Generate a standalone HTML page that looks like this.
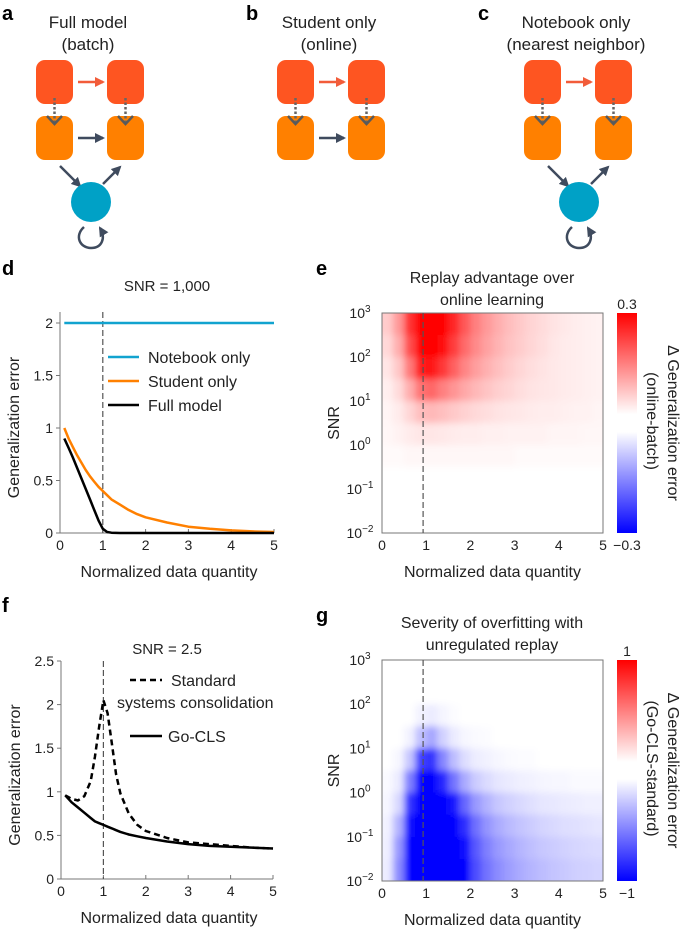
<!DOCTYPE html>
<html><head><meta charset="utf-8">
<style>
html,body{margin:0;padding:0;background:#fff;}
svg{display:block;font-family:"Liberation Sans",Arial,sans-serif;}
</style></head>
<body>
<svg id="fig" width="685" height="931" viewBox="0 0 685 931" xmlns="http://www.w3.org/2000/svg">
<defs>
<marker id="ah" viewBox="0 0 10 10" refX="8" refY="5" markerWidth="4" markerHeight="4" orient="auto"><path d="M0,0 L10,5 L0,10 z" fill="#3f4b5e"/></marker>
<marker id="ahr" viewBox="0 0 10 10" refX="8" refY="5" markerWidth="4" markerHeight="4" orient="auto"><path d="M0,0 L10,5 L0,10 z" fill="#f25c3a"/></marker>
<linearGradient id="cbe" x1="0" y1="0" x2="0" y2="1">
<stop offset="0" stop-color="#ff0000"/><stop offset="0.46" stop-color="#ffffff"/><stop offset="0.54" stop-color="#ffffff"/><stop offset="1" stop-color="#0000ff"/></linearGradient>
<filter id="blur" x="-5%" y="-5%" width="110%" height="110%"><feGaussianBlur stdDeviation="3.5"/></filter>
<clipPath id="clipE"><rect x="382" y="313" width="221" height="220"/></clipPath>
<clipPath id="clipG"><rect x="382" y="660" width="221" height="221"/></clipPath>
</defs>
<g id="diagrams"></g>
<g id="panel-d"></g>
<g id="panel-e"></g>
<g id="panel-f"></g>
<g id="panel-g"></g>
</svg>
<script>
// ---------- data ----------
const dX = [0.1,0.2,0.3,0.4,0.5,0.6,0.7,0.8,0.9,1.0,1.1,1.2,1.4,1.6,1.8,2.0,2.5,3.0,3.5,4.0,4.5,5.0];
const dNotebook = [2,2,2,2,2,2,2,2,2,2,2,2,2,2,2,2,2,2,2,2,2,2];
const dStudent = [1.0,0.9,0.82,0.74,0.67,0.6,0.54,0.49,0.44,0.4,0.36,0.32,0.27,0.22,0.18,0.15,0.1,0.06,0.04,0.025,0.015,0.01];
const dFull = [0.9,0.81,0.72,0.62,0.52,0.42,0.32,0.22,0.12,0.04,0.01,0.003,0,0,0,0,0,0,0,0,0,0];

const fX = [0.1,0.25,0.4,0.55,0.7,0.8,0.9,1.0,1.1,1.2,1.3,1.4,1.6,1.8,2.0,2.5,3.0,3.5,4.0,4.5,5.0];
const fStandard = [0.96,0.92,0.9,0.95,1.12,1.4,1.75,2.05,1.9,1.55,1.2,0.98,0.75,0.62,0.55,0.47,0.42,0.4,0.38,0.36,0.35];
const fGoCLS = [0.96,0.88,0.82,0.76,0.7,0.66,0.64,0.62,0.6,0.58,0.56,0.54,0.51,0.49,0.47,0.43,0.4,0.38,0.37,0.36,0.35];

const dYTicks = [0,0.5,1,1.5,2];
const dYTickLabels = ["0","0.5","1","1.5","2"];
const fYTicks = [0,0.5,1,1.5,2,2.5];
const fYTickLabels = ["0","0.5","1","1.5","2","2.5"];
const xTicks = [0,1,2,3,4,5];
const logTicks = [3,2,1,0,-1,-2];

// heatmap: 20 columns (width 0.25), 10 rows (half decades) from top (10^3) to bottom (10^-2)
const eValues = [
[0.2,0.4,0.8,1,1,1,0.85,0.65,0.5,0.4,0.32,0.26,0.21,0.17,0.14,0.11,0.09,0.07,0.06,0.05],
[0.15,0.32,0.7,1,1,0.95,0.76,0.58,0.46,0.37,0.3,0.24,0.2,0.16,0.13,0.1,0.08,0.07,0.06,0.05],
[0.1,0.22,0.52,0.88,0.92,0.78,0.62,0.48,0.38,0.31,0.25,0.2,0.16,0.13,0.11,0.09,0.08,0.07,0.06,0.05],
[0.06,0.14,0.32,0.55,0.6,0.5,0.42,0.34,0.28,0.23,0.19,0.16,0.13,0.11,0.1,0.09,0.08,0.07,0.06,0.05],
[0.04,0.08,0.16,0.26,0.28,0.25,0.21,0.18,0.15,0.13,0.11,0.1,0.09,0.08,0.07,0.07,0.06,0.05,0.05,0.04],
[0.03,0.05,0.08,0.1,0.1,0.09,0.08,0.07,0.07,0.06,0.06,0.05,0.05,0.05,0.05,0.04,0.04,0.04,0.03,0.03],
[0.02,0.02,0.03,0.03,0.03,0.03,0.03,0.03,0.03,0.03,0.03,0.03,0.02,0.02,0.02,0.02,0.02,0.02,0.02,0.02],
[0,0,0,0,0,0,0,0,0,0,0,0,0,0,0,0,0,0,0,0],
[0,0,0,0,0,0,0,0,0,0,0,0,0,0,0,0,0,0,0,0],
[0,0,0,0,0,0,0,0,0,0,0,0,0,0,0,0,0,0,0,0]];
const gValues = [
[0,0,0,0,0,0,0,0,0,0,0,0,0,0,0,0,0,0,0,0],
[0,0,0,0,0,0,0,0,0,0,0,0,0,0,0,0,0,0,0,0],
[0,0,0,0.05,0.08,0.04,0.01,0,0,0,0,0,0,0,0,0,0,0,0,0],
[0,0,0.05,0.25,0.35,0.18,0.08,0.03,0.02,0.01,0,0,0,0,0,0,0,0,0,0],
[0,0.03,0.22,0.75,0.8,0.48,0.26,0.13,0.07,0.05,0.03,0.02,0.01,0.01,0,0,0,0,0,0],
[0.02,0.08,0.5,1,1,0.85,0.55,0.33,0.2,0.14,0.1,0.08,0.06,0.05,0.04,0.03,0.03,0.02,0.02,0.02],
[0.03,0.15,0.8,1,1,1,0.9,0.6,0.4,0.3,0.22,0.18,0.15,0.12,0.1,0.09,0.08,0.07,0.06,0.06],
[0.05,0.3,0.95,1,1,1,1,0.82,0.56,0.42,0.33,0.27,0.23,0.2,0.17,0.15,0.13,0.12,0.11,0.1],
[0.06,0.4,1,1,1,1,1,0.95,0.65,0.5,0.4,0.34,0.29,0.25,0.22,0.2,0.18,0.16,0.15,0.14],
[0.07,0.45,1,1,1,1,1,1,0.7,0.55,0.45,0.38,0.33,0.29,0.26,0.23,0.21,0.19,0.18,0.17]];

// ---------- helpers ----------
const NS = "http://www.w3.org/2000/svg";
function mk(parent, tag, attrs, text) {
  const el = document.createElementNS(NS, tag);
  for (const k in attrs) el.setAttribute(k, attrs[k]);
  if (text !== undefined) el.textContent = text;
  parent.appendChild(el);
  return el;
}
const TXT = "#222";

// ---------- diagrams a,b,c ----------
const dg = document.getElementById("diagrams");
const panels = [
  {off:0, t1:"Full model", t2:"(batch)", lab:"a", lx:2, bottom:true, botArrow:true},
  {off:241, t1:"Student only", t2:"(online)", lab:"b", lx:246, bottom:false, botArrow:true},
  {off:488, t1:"Notebook only", t2:"(nearest neighbor)", lab:"c", lx:478, bottom:true, botArrow:false}
];
panels.forEach((p, i) => {
  const g = mk(dg, "g", {});
  
  
  const o = p.off;
  const lab = mk(g, "text", {x:p.lx, y:20, "font-size":20, "font-weight":"bold", fill:"#000"}, p.lab);
  
  
  const t1 = mk(g, "text", {x:o+88, y:28, "font-size":17, "text-anchor":"middle", fill:TXT}, p.t1);
  
  
  const t2 = mk(g, "text", {x:o+88, y:50, "font-size":17, "text-anchor":"middle", fill:TXT}, p.t2);
  
  
  [36,107].forEach(bx => {
    const r = mk(g, "rect", {x:o+bx, y:60, width:37, height:44, rx:9, fill:"#fe5521"});
    
    
    const s = mk(g, "rect", {x:o+bx, y:116, width:37, height:44, rx:9, fill:"#ff8000"});
    
    
    mk(g, "line", {x1:o+bx+18.5, y1:98, x2:o+bx+18.5, y2:122, stroke:"#666", "stroke-width":2.5, "stroke-dasharray":"2.5 2"});
    mk(g, "polyline", {points:`${o+bx+11},${116} ${o+bx+18.5},${124} ${o+bx+26},${116}`, fill:"none", stroke:"#5a5a5a", "stroke-width":2.5});
  });
  mk(g, "line", {x1:o+78, y1:82, x2:o+103, y2:82, stroke:"#f25c3a", "stroke-width":2.5, "marker-end":"url(#ahr)"});
  if (p.botArrow) mk(g, "line", {x1:o+78, y1:138, x2:o+103, y2:138, stroke:"#3f4b5e", "stroke-width":2.5, "marker-end":"url(#ah)"});
  if (p.bottom) {
    mk(g, "line", {x1:o+60, y1:166, x2:o+80, y2:186, stroke:"#3f4b5e", "stroke-width":2.5, "marker-end":"url(#ah)"});
    mk(g, "line", {x1:o+103, y1:184, x2:o+120, y2:167, stroke:"#3f4b5e", "stroke-width":2.5, "marker-end":"url(#ah)"});
    const c = mk(g, "ellipse", {cx:o+91, cy:202, rx:20, ry:20, fill:"#00a1c6"});
    
    
    mk(g, "path", {d:`M${o+84},227 C${o+74},236 ${o+80},248 ${o+91},248 C${o+102},248 ${o+106},238 ${o+100},228`, fill:"none", stroke:"#3f4b5e", "stroke-width":2.5, "marker-end":"url(#ah)"});
  }
});

// ---------- line charts ----------
function lineChart(gid, cfg) {
  const g = document.getElementById(gid);
  const {x0,x1,y0,yTop,yMax,xMax} = cfg;
  const sx = v => x0 + (x1 - x0) * v / xMax;
  const sy = v => y0 - (y0 - yTop) * v / yMax;
  const lab = mk(g, "text", {x:cfg.labX, y:cfg.labY, "font-size":20, "font-weight":"bold", fill:"#000"}, cfg.label);
  
  
  const tt = mk(g, "text", {x:(x0+x1)/2, y:cfg.titleY, "font-size":15, "text-anchor":"middle", fill:TXT}, cfg.title);
  
  
  const ax = mk(g, "path", {d:`M${x0},${cfg.axTop} L${x0},${y0} L${x1},${y0}`, fill:"none", stroke:"#777", "stroke-width":1});
  
  
  cfg.yTicks.forEach((v, i) => {
    mk(g, "line", {x1:x0-4, y1:sy(v), x2:x0, y2:sy(v), stroke:"#777"});
    const t = mk(g, "text", {x:x0-7, y:sy(v)+5, "font-size":14, "text-anchor":"end", fill:TXT}, cfg.yLabels[i]);
    
    
  });
  xTicks.forEach(v => {
    mk(g, "line", {x1:sx(v), y1:y0, x2:sx(v), y2:y0-4, stroke:"#777"});
    const t = mk(g, "text", {x:sx(v), y:y0+17, "font-size":14, "text-anchor":"middle", fill:TXT}, String(v));
    
    
  });
  const xl = mk(g, "text", {x:(x0+x1)/2+2, y:y0+44, "font-size":16, "text-anchor":"middle", fill:TXT}, "Normalized data quantity");
  
  
  const yl = mk(g, "text", {x:0, y:0, "font-size":16, "text-anchor":"middle", fill:TXT, transform:`translate(${x0-41},${(y0+cfg.axTop)/2+5}) rotate(-90)`}, "Generalization error");
  
  
  const vl = mk(g, "line", {x1:sx(1), y1:cfg.axTop, x2:sx(1), y2:y0, stroke:"#555", "stroke-width":1.2, "stroke-dasharray":"6 3"});
  
  
  cfg.series.forEach(s => {
    const pts = s.x.map((v, i) => `${sx(v).toFixed(1)},${sy(s.y[i]).toFixed(1)}`).join(" ");
    const pl = mk(g, "polyline", {points:pts, fill:"none", stroke:s.color, "stroke-width":2.5, "stroke-dasharray":s.dash || "none", "stroke-linejoin":"round"});
    
    
  });
  return g;
}

const gd = lineChart("panel-d", {x0:60, x1:274, y0:533, yTop:323, yMax:2, xMax:5, axTop:312,
  label:"d", labX:2, labY:275, title:"SNR = 1,000", titleY:291,
  yTicks:dYTicks, yLabels:dYTickLabels,
  series:[
    {name:"notebook-only-line", x:dX, y:dNotebook, color:"#12a3cf"},
    {name:"student-only-line", x:dX, y:dStudent, color:"#ff8000"},
    {name:"full-model-line", x:dX, y:dFull, color:"#000"}]});
[["Notebook only","#12a3cf",357],["Student only","#ff8000",381],["Full model","#000",405]].forEach(l => {
  const e = mk(gd, "g", {});
  
  
  mk(e, "line", {x1:108, y1:l[2], x2:139, y2:l[2], stroke:l[1], "stroke-width":2.5});
  mk(e, "text", {x:148, y:l[2]+6, "font-size":16, fill:TXT}, l[0]);
});

const gf = lineChart("panel-f", {x0:61, x1:273, y0:879, yTop:661, yMax:2.5, xMax:5, axTop:661,
  label:"f", labX:2, labY:612, title:"SNR = 2.5", titleY:654,
  yTicks:fYTicks, yLabels:fYTickLabels,
  series:[
    {name:"standard-consolidation-line", x:fX, y:fStandard, color:"#000", dash:"6 4"},
    {name:"go-cls-line", x:fX, y:fGoCLS, color:"#000"}]});
{
  const e1 = mk(gf, "g", {});
  
  
  mk(e1, "line", {x1:130, y1:680, x2:162, y2:680, stroke:"#000", "stroke-width":2.5, "stroke-dasharray":"6 4"});
  mk(e1, "text", {x:171, y:686, "font-size":16, fill:TXT}, "Standard");
  mk(e1, "text", {x:117, y:708, "font-size":16, fill:TXT}, "systems consolidation");
  const e2 = mk(gf, "g", {});
  
  
  mk(e2, "line", {x1:130, y1:736, x2:162, y2:736, stroke:"#000", "stroke-width":2.5});
  mk(e2, "text", {x:168, y:742, "font-size":16, fill:TXT}, "Go-CLS");
}

// ---------- heatmaps ----------
function heatmap(gid, cfg) {
  const g = document.getElementById(gid);
  const {x0,x1,yT,yB} = cfg;
  const sx = v => x0 + (x1 - x0) * v / 5;
  const sy = d => yT + (yB - yT) * (3 - d) / 5;
  const lab = mk(g, "text", {x:cfg.labX, y:cfg.labY, "font-size":20, "font-weight":"bold", fill:"#000"}, cfg.label);
  
  
  cfg.title.forEach((t, i) => {
    const tt = mk(g, "text", {x:492, y:cfg.titleY + i*22, "font-size":16, "text-anchor":"middle", fill:TXT}, t);
    
    
  });
  const clipG = mk(g, "g", {"clip-path":cfg.clip});
  const cells = mk(clipG, "g", {filter:"url(#blur)"});
  
  
  const vals = cfg.values;
  const nR = vals.length, nC = vals[0].length;
  vals.forEach((row, r) => {
    row.forEach((v, c) => {
      let xa = sx(c * 5 / nC), xb = sx((c + 1) * 5 / nC);
      let ya = sy(3 - r * 5 / nR), yb = sy(3 - (r + 1) * 5 / nR);
      if (c === 0) xa -= 10;
      if (c === nC - 1) xb += 10;
      if (r === 0) ya -= 10;
      if (r === nR - 1) yb += 10;
      const k = Math.round(255 * (1 - Math.min(1, v)));
      const col = cfg.sign > 0 ? `rgb(255,${k},${k})` : `rgb(${k},${k},255)`;
      const cell = mk(cells, "rect", {x:xa.toFixed(2), y:ya.toFixed(2), width:(xb-xa+0.4).toFixed(2), height:(yb-ya+0.4).toFixed(2), fill:col});
      
      
    });
  });
  const fr = mk(g, "rect", {x:x0, y:yT, width:x1-x0, height:yB-yT, fill:"none", stroke:"#777", "stroke-width":1});
  
  
  const vl = mk(g, "line", {x1:sx(0.93), y1:yT, x2:sx(0.93), y2:yB, stroke:"#555", "stroke-width":1.2, "stroke-dasharray":"6 3"});
  
  
  logTicks.forEach(d => {
    const t = mk(g, "text", {x:x0-22, y:sy(d)+5, "font-size":14, "text-anchor":"middle", fill:TXT}, "10");
    
    
    mk(t, "tspan", {dy:-6, "font-size":10}, String(d).replace("-", "\u2212"));
  });
  xTicks.forEach(v => {
    const t = mk(g, "text", {x:sx(v), y:yB+17, "font-size":14, "text-anchor":"middle", fill:TXT}, String(v));
    
    
  });
  const xl = mk(g, "text", {x:(x0+x1)/2, y:yB+44, "font-size":16, "text-anchor":"middle", fill:TXT}, "Normalized data quantity");
  
  
  const yl = mk(g, "text", {x:0, y:0, "font-size":16, "text-anchor":"middle", fill:TXT, transform:`translate(339,${(yT+yB)/2}) rotate(-90)`}, "SNR");
  
  
  const cb = mk(g, "rect", {x:617, y:yT, width:20, height:yB-yT, fill:"url(#cbe)"});
  
  
  const ct = mk(g, "text", {x:627, y:yT-4, "font-size":14, "text-anchor":"middle", fill:TXT}, cfg.cbTop);
  
  
  const cbb = mk(g, "text", {x:627, y:yB+17, "font-size":14, "text-anchor":"middle", fill:TXT}, cfg.cbBot);
  
  
  const c1 = mk(g, "text", {x:0, y:0, "font-size":16, "text-anchor":"middle", fill:TXT, transform:`translate(668,${(yT+yB)/2}) rotate(90)`}, "\u0394 Generalization error");
  
  
  const c2 = mk(g, "text", {x:0, y:0, "font-size":16, "text-anchor":"middle", fill:TXT, transform:`translate(647,${(yT+yB)/2 - 2}) rotate(90)`}, cfg.cbSub);
  
  
}

heatmap("panel-e", {x0:382, x1:603, yT:313, yB:533, label:"e", labX:316, labY:275, clip:"url(#clipE)",
  title:["Replay advantage over","online learning"], titleY:283, values:eValues, sign:1,
  cbTop:"0.3", cbBot:"\u22120.3", cbSub:"(online-batch)"});
heatmap("panel-g", {x0:382, x1:603, yT:660, yB:881, label:"g", labX:316, labY:622, clip:"url(#clipG)",
  title:["Severity of overfitting with","unregulated replay"], titleY:628, values:gValues, sign:-1,
  cbTop:"1", cbBot:"\u22121", cbSub:"(Go-CLS-standard)"});
</script>
</body></html>
